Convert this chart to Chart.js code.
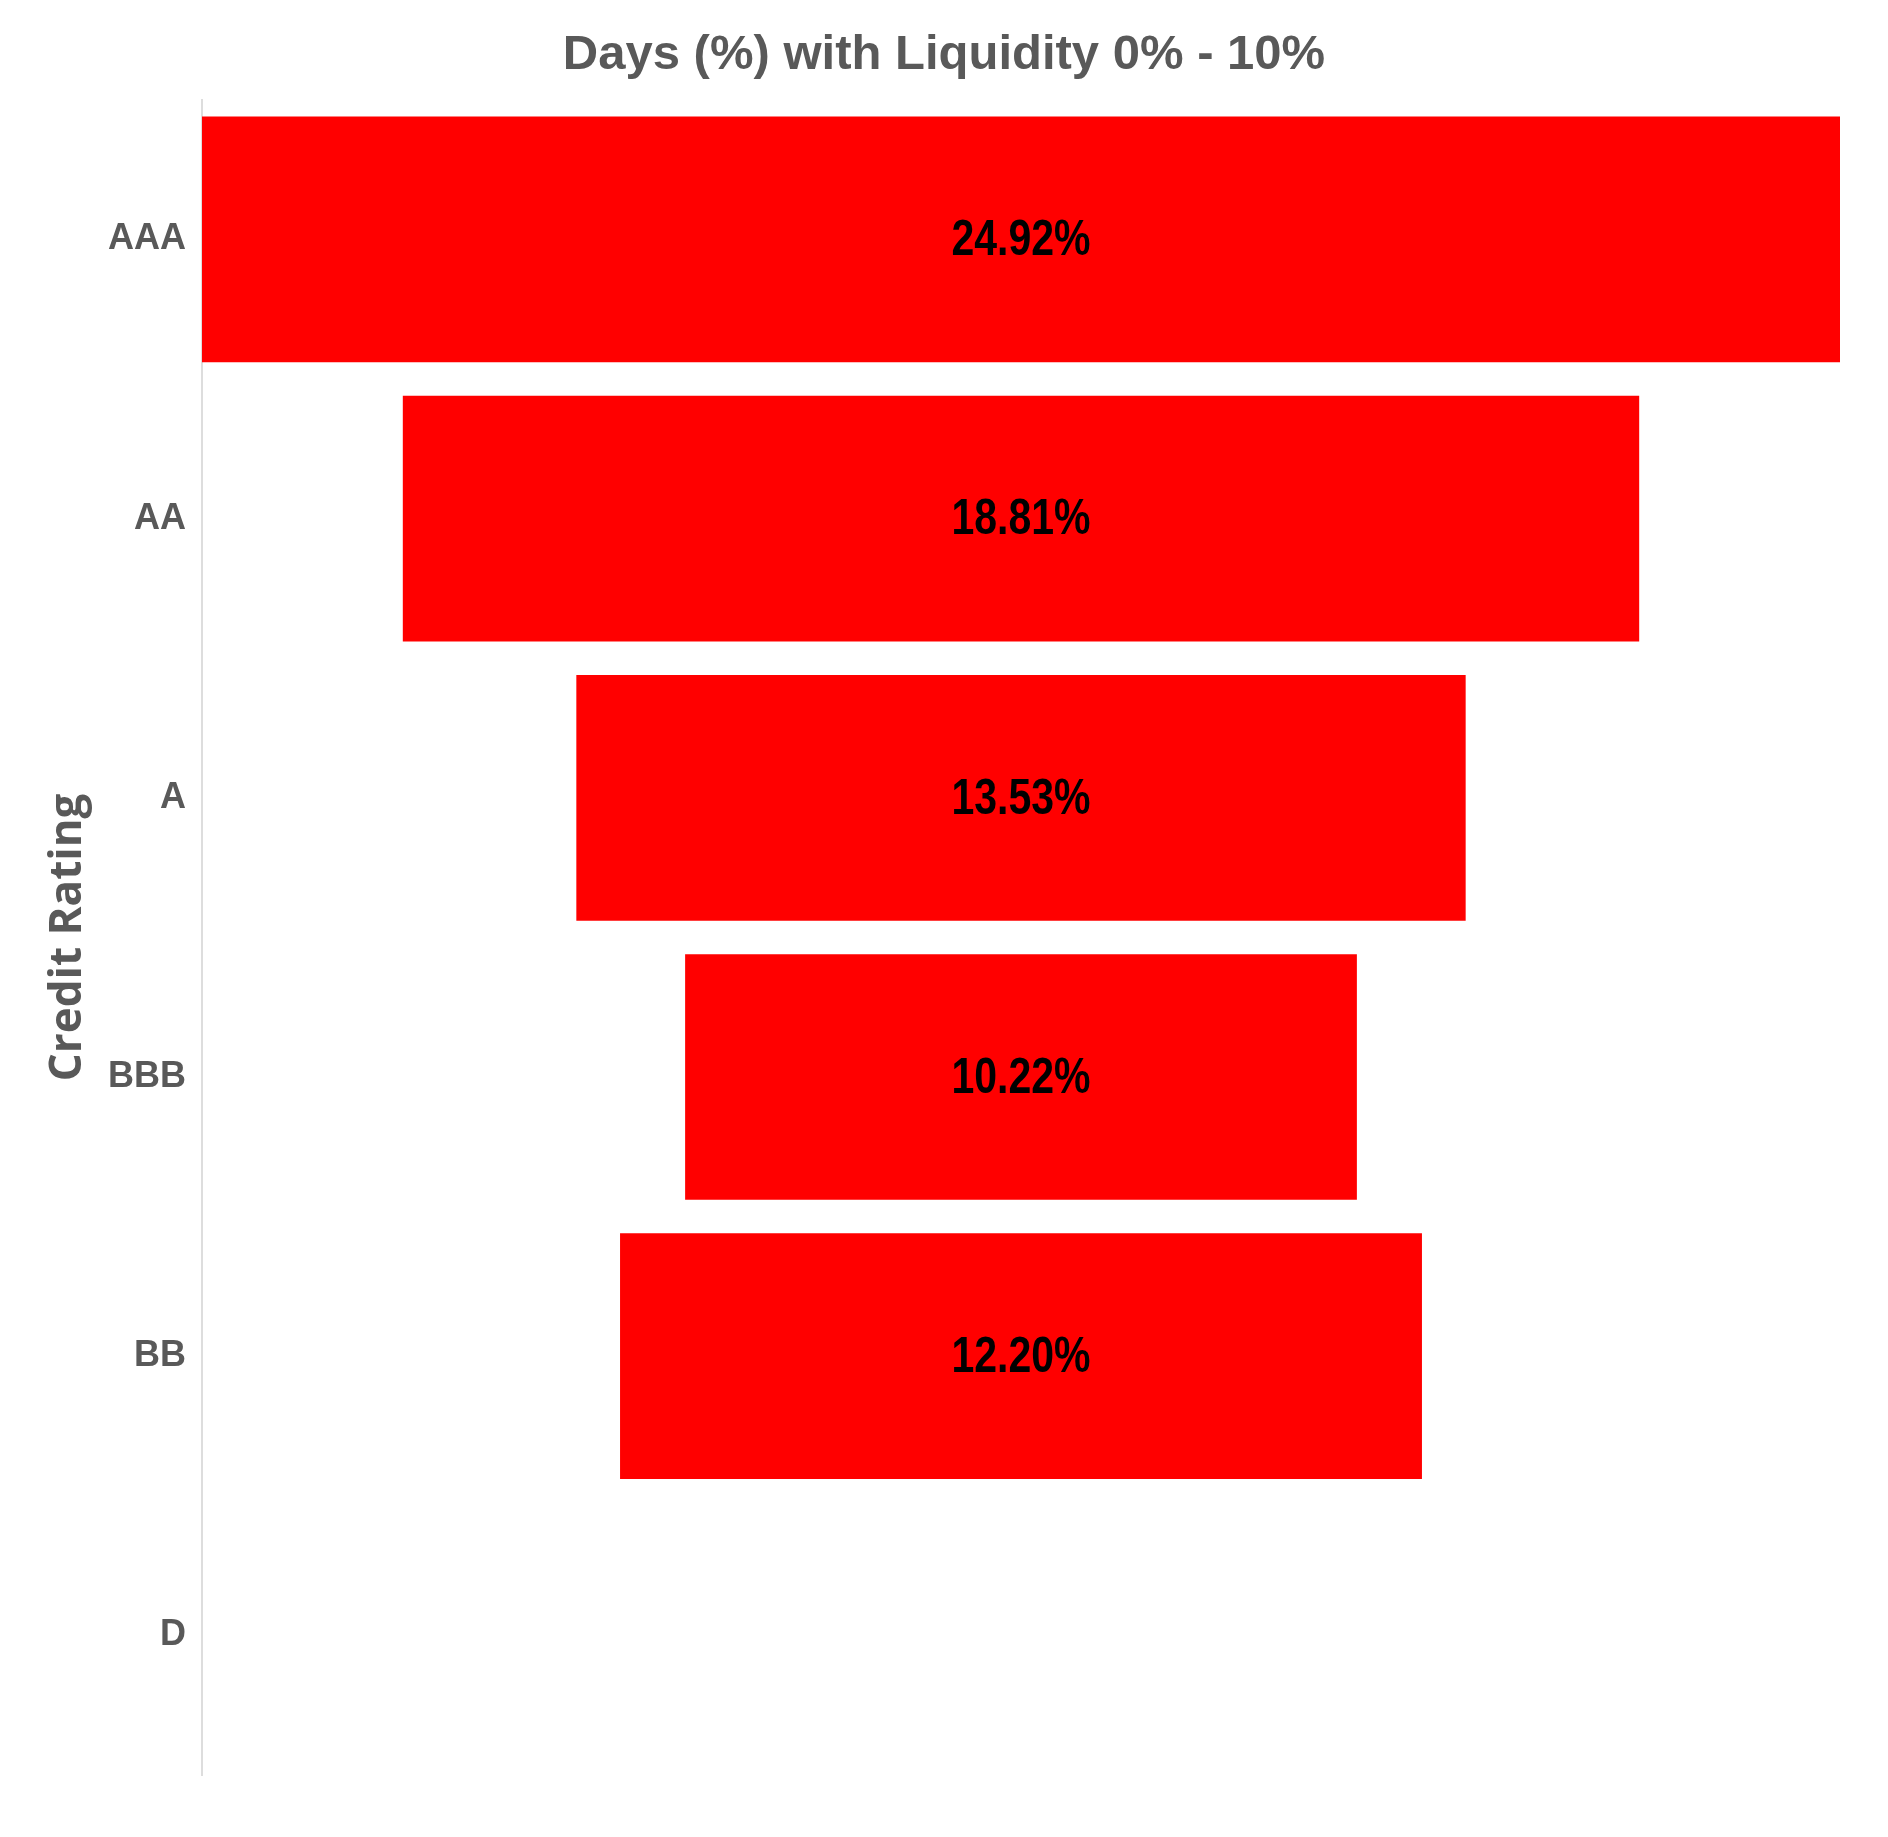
<!DOCTYPE html>
<html>
<head>
<meta charset="utf-8">
<script src="https://cdn.jsdelivr.net/npm/chart.js@4.4.1/dist/chart.umd.min.js"></script>
<style>
  html, body { margin: 0; padding: 0; background: #fff; }
  #wrap { width: 1888px; height: 1837px; }
</style>
</head>
<body>
<div id="wrap"><canvas id="myChart"></canvas></div>
<script>
// Define the chart data
var ratings = ['AAA', 'AA', 'A', 'BBB', 'BB', 'D'];
var liquidityDays = [24.92, 18.81, 13.53, 10.22, 12.20, null];

// funnel: every bar is centred on zero
var halfMax = Math.max.apply(null, liquidityDays.filter(function (v) { return v !== null; })) / 2;
var funnelBars = liquidityDays.map(function (v) { return v === null ? null : [-v / 2, v / 2]; });

// small inline plugin to write the value in the middle of each bar
var barLabels = {
  id: 'barLabels',
  afterDatasetsDraw: function (chart) {
    var ctx = chart.ctx;
    var meta = chart.getDatasetMeta(0);
    meta.data.forEach(function (bar, i) {
      if (liquidityDays[i] === null) return;
      var c = bar.getCenterPoint();
      ctx.save();
      ctx.translate(c.x, c.y + 2);
      ctx.scale(0.82, 1); // narrow look of the original label font
      ctx.font = 'bold 50px "Liberation Sans", sans-serif';
      ctx.fillStyle = '#000';
      ctx.textAlign = 'center';
      ctx.textBaseline = 'middle';
      ctx.fillText(liquidityDays[i].toFixed(2) + '%', 0, 0);
      ctx.restore();
    });
  }
};

var data = {
  labels: ratings,
  datasets: [{
    label: 'Days (%)',
    data: funnelBars,
    backgroundColor: '#ff0000',
    borderWidth: 0,
    categoryPercentage: 1,
    barPercentage: 0.88
  }]
};

// Define the chart configuration
var config = {
  type: 'bar',
  data: data,
  plugins: [barLabels],
  options: {
    indexAxis: 'y',
    responsive: true,
    maintainAspectRatio: false,
    animation: false,
    layout: { padding: { left: 0, right: 0, top: 0, bottom: 62 } },
    plugins: {
      legend: { display: false },
      tooltip: { enabled: false },
      title: {
        display: true,
        text: 'Days (%) with Liquidity 0% - 10%',
        color: '#595959',
        font: { family: '"Liberation Sans", sans-serif', size: 49, weight: 'bold' },
        padding: { top: 26, bottom: 15 }
      }
    },
    scales: {
      x: {
        display: false,
        min: -halfMax,
        max: halfMax
      },
      y: {
        grid: { display: false, drawTicks: false },
        border: { display: true, color: '#dddddd', width: 2 },
        ticks: {
          color: '#595959',
          padding: 16,
          font: { family: '"Liberation Sans", sans-serif', size: 36, weight: 'bold' }
        },
        title: {
          display: true,
          text: 'Credit Rating',
          color: '#595959',
          padding: { top: 42, bottom: 0 },
          font: { family: '"Open Sans", sans-serif', size: 44, weight: 'bold' }
        },
        afterFit: function (scale) { scale.width = 202; }
      },
      // empty right margin so the title stays centred on the page
      yRight: {
        type: 'category',
        position: 'right',
        grid: { display: false, drawTicks: false },
        border: { display: false },
        ticks: { display: false },
        afterFit: function (scale) { scale.width = 48; }
      }
    }
  }
};

// Create the chart
var myChart = new Chart(document.getElementById('myChart').getContext('2d'), config);
</script>
</body>
</html>
